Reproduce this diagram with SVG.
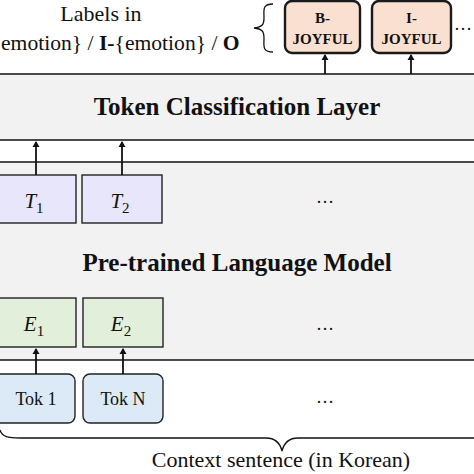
<svg xmlns="http://www.w3.org/2000/svg" width="474" height="474" viewBox="0 0 474 474">
<style>
text{font-family:"Liberation Serif","Times New Roman",serif;fill:#111}
.layer{fill:#f2f2f2;stroke:none}
.hline{stroke:#111;stroke-width:1.6}
.lab{fill:#f9e0d0;stroke:#1a1a1a;stroke-width:2.4}
.tb{fill:#e8e6fa;stroke:#222;stroke-width:1.4}
.eb{fill:#e2efda;stroke:#222;stroke-width:1.4}
.kb{fill:#dce9f6;stroke:#222;stroke-width:1.4}
.arr{stroke:#111;stroke-width:1.8;fill:none;marker-end:url(#ah)}
.big{font-size:25px;font-weight:bold;text-anchor:middle}
.lt{font-size:15px;font-weight:bold;text-anchor:middle}
.it{font-size:21px;font-style:italic;text-anchor:middle}
.dots{font-size:18px;text-anchor:middle}
.tok{font-size:18px;text-anchor:middle}
.cap{font-size:22px}
</style>
<defs>
<marker id="ah" markerWidth="8" markerHeight="8" refX="5" refY="4" orient="auto" markerUnits="userSpaceOnUse">
<path d="M0,0.5 L6,4 L0,7.5 Z" fill="#111"/>
</marker>
</defs>
<rect width="474" height="474" fill="#fff"/>

<g id="token-classification-layer">
<rect class="layer" x="-2" y="74" width="478" height="66"/>
<line class="hline" x1="0" y1="74" x2="474" y2="74"/>
<line class="hline" x1="0" y1="140" x2="474" y2="140"/>
<text class="big" x="237" y="115">Token Classification Layer</text>
</g>

<g id="pretrained-language-model">
<rect class="layer" x="-2" y="162" width="478" height="198"/>
<line class="hline" x1="0" y1="162" x2="474" y2="162"/>
<line class="hline" x1="0" y1="360" x2="474" y2="360"/>
<text class="big" x="237" y="271">Pre-trained Language Model</text>
</g>

<g id="labels-caption">
<text class="cap" x="101" y="21" text-anchor="middle">Labels in</text>
<text class="cap" x="1" y="50" style="font-size:21.6px">emotion} / <tspan font-weight="bold">I-</tspan>{emotion} / <tspan font-weight="bold">O</tspan></text>
<path d="M273,4 C262,4 264,10 264,18 C264,25 262,27 254,28 C262,29 264,31 264,38 C264,46 262,52 273,52" fill="none" stroke="#111" stroke-width="1.3"/>
</g>

<g id="label-b-joyful">
<rect class="lab" x="285" y="1" width="75" height="52" rx="7"/>
<text class="lt" x="322.5" y="23">B-</text>
<text class="lt" x="322.5" y="44">JOYFUL</text>
</g>
<g id="label-i-joyful">
<rect class="lab" x="372" y="1" width="79" height="52" rx="7"/>
<text class="lt" x="411.5" y="23">I-</text>
<text class="lt" x="411.5" y="44">JOYFUL</text>
</g>
<text class="dots" x="463" y="30">…</text>

<g id="t1">
<rect class="tb" x="-5" y="175" width="81" height="48"/>
<text class="it" x="34" y="208">T<tspan font-style="normal" font-size="15" dy="5">1</tspan></text>
</g>
<g id="t2">
<rect class="tb" x="82" y="175" width="80" height="48"/>
<text class="it" x="120" y="208">T<tspan font-style="normal" font-size="15" dy="5">2</tspan></text>
</g>
<text class="dots" x="325" y="203">…</text>

<g id="e1">
<rect class="eb" x="-5" y="298" width="81" height="49"/>
<text class="it" x="34" y="331">E<tspan font-style="normal" font-size="15" dy="5">1</tspan></text>
</g>
<g id="e2">
<rect class="eb" x="83" y="298" width="80" height="49"/>
<text class="it" x="121" y="331">E<tspan font-style="normal" font-size="15" dy="5">2</tspan></text>
</g>
<text class="dots" x="325" y="330">…</text>

<g id="tok1">
<rect class="kb" x="-8" y="374" width="83" height="49" rx="7"/>
<text class="tok" x="36" y="405">Tok 1</text>
</g>
<g id="tokn">
<rect class="kb" x="83" y="374" width="80" height="49" rx="7"/>
<text class="tok" x="123" y="405">Tok N</text>
</g>
<text class="dots" x="325" y="403">…</text>

<g id="context-caption">
<path d="M0,430 C2,437 8,438 20,438 L266,438 C276,438 280,443 282,451 C284,443 288,438 298,438 L474,438" fill="none" stroke="#111" stroke-width="1.3"/>
<text class="cap" x="281" y="467" text-anchor="middle">Context sentence (in Korean)</text>
</g>

<g id="connectors">
<line class="arr" x1="325" y1="74" x2="325" y2="55"/>
<line class="arr" x1="411" y1="74" x2="411" y2="55"/>
<line class="arr" x1="36" y1="175" x2="36" y2="142"/>
<line class="arr" x1="122" y1="175" x2="122" y2="142"/>
<line class="arr" x1="36" y1="374" x2="36" y2="349"/>
<line class="arr" x1="123" y1="374" x2="123" y2="349"/>
</g>
</svg>
